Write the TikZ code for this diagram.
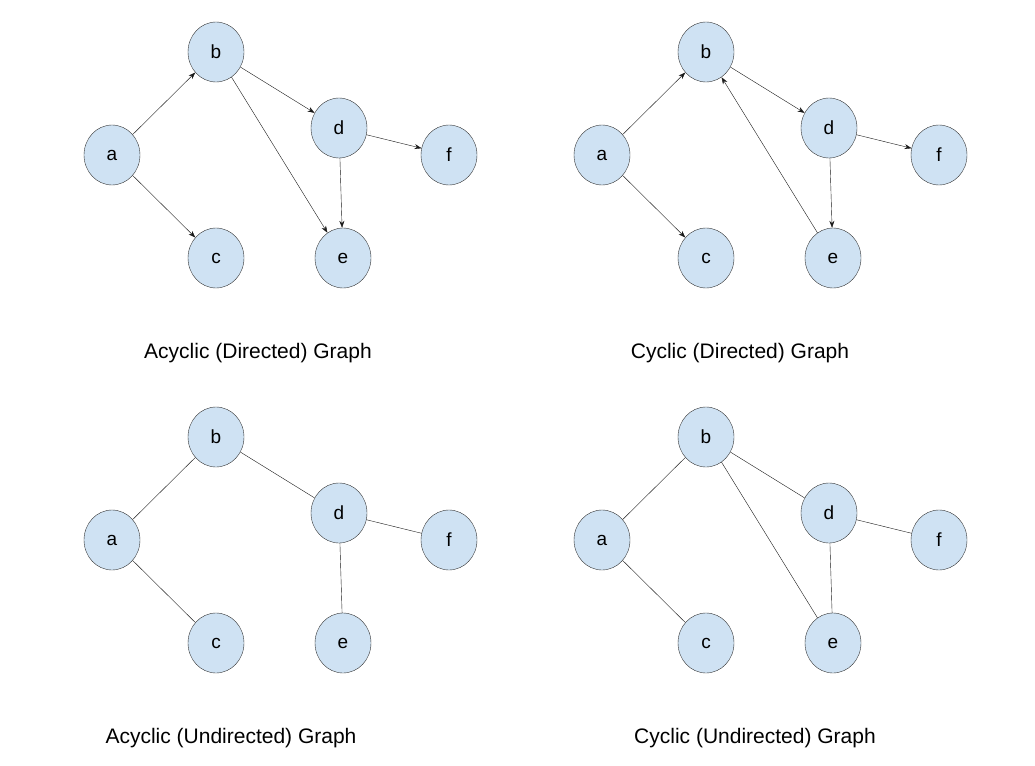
\documentclass[tikz,border=0pt]{standalone}
\usepackage{fontspec}
\setmainfont{Liberation Sans}
\usetikzlibrary{shapes.geometric, arrows.meta}
\definecolor{nodefill}{HTML}{CFE2F3}
\tikzset{
  vert/.style = {ellipse, draw = black!80, fill = nodefill, minimum width = 56pt, minimum height = 60pt, inner sep = 0pt, font = \fontsize{19}{19}\selectfont},
  arc/.style = {-{Stealth[length = 7pt, width = 5pt]}, black!90},
  edge/.style = {black!90},
  caption/.style = {font = \fontsize{21}{21}\selectfont}
}
\begin{document}
\begin{tikzpicture}[x = 1pt, y = -1pt]
\useasboundingbox (0, 0) rectangle (1035, 765);

% four panels: name suffix, x offset, y offset
\foreach \p/\dx/\dy in {1/0/0, 2/490/0, 3/0/385, 4/490/385} {
  \node[vert] (a\p) at ({112 + \dx}, {155 + \dy}) {a};
  \node[vert] (b\p) at ({216 + \dx}, {52 + \dy}) {b};
  \node[vert] (c\p) at ({216 + \dx}, {258 + \dy}) {c};
  \node[vert] (d\p) at ({339 + \dx}, {128 + \dy}) {d};
  \node[vert] (e\p) at ({343 + \dx}, {258 + \dy}) {e};
  \node[vert] (f\p) at ({449 + \dx}, {155 + \dy}) {f};
}

% acyclic directed
\foreach \u/\v in {a/b, a/c, b/d, b/e, d/f, d/e}
  \draw[arc] (\u1) -- (\v1);
% cyclic directed
\foreach \u/\v in {a/b, a/c, b/d, e/b, d/f, d/e}
  \draw[arc] (\u2) -- (\v2);
% acyclic undirected
\foreach \u/\v in {a/b, a/c, b/d, d/f, d/e}
  \draw[edge] (\u3) -- (\v3);
% cyclic undirected
\foreach \u/\v in {a/b, a/c, b/d, b/e, d/f, d/e}
  \draw[edge] (\u4) -- (\v4);

\node[caption] (t1) at (258, 353) {Acyclic (Directed) Graph};
\node[caption] (t2) at (740, 353) {Cyclic (Directed) Graph};
\node[caption] (t3) at (231, 738) {Acyclic (Undirected) Graph};
\node[caption] (t4) at (755, 738) {Cyclic (Undirected) Graph};
\end{tikzpicture}
\end{document}
